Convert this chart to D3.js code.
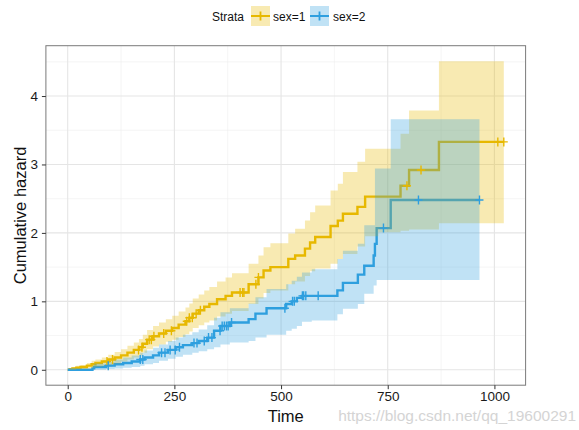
<!DOCTYPE html>
<html>
<head>
<meta charset="utf-8">
<script src="https://cdn.jsdelivr.net/npm/d3@7"></script>
<style>
 body{margin:0;background:#fff;}
 svg{display:block;font-family:"Liberation Sans",Arial,sans-serif;}
</style>
</head>
<body>
<div id="chart"></div>
<script>
// strata and colours
var strata = ["sex=1", "sex=2"];
var colors = ["#E7B800", "#2E9FDF"];

// sex=1 : step times, cumulative hazard, lower / upper CI
var time1 = [0,5,11,20,30,45,56,65,80,95,110,125,140,155,167,176,186,200,214,230,245,260,276,285,293,307,320,332,350,370,385,424,447,459,475,517,533,556,568,580,616,633,645,679,697,728,780,800,870];
var haz1  = [0,0.007,0.02,0.03,0.04,0.06,0.08,0.10,0.12,0.15,0.18,0.21,0.25,0.29,0.33,0.38,0.44,0.49,0.53,0.57,0.61,0.66,0.71,0.76,0.82,0.87,0.92,0.96,1.03,1.08,1.13,1.25,1.35,1.45,1.50,1.62,1.67,1.77,1.86,1.94,2.10,2.18,2.28,2.38,2.53,2.53,2.69,2.92,3.33];
var low1  = [0,0,0,0.01,0.01,0.02,0.03,0.04,0.05,0.07,0.09,0.12,0.15,0.18,0.21,0.25,0.30,0.34,0.37,0.41,0.44,0.48,0.52,0.56,0.61,0.65,0.69,0.72,0.78,0.82,0.86,0.96,1.04,1.12,1.16,1.25,1.29,1.37,1.44,1.48,1.55,1.62,1.69,1.80,1.95,2.01,2.03,2.05,2.14];
var up1   = [0,0.02,0.04,0.06,0.07,0.10,0.13,0.15,0.18,0.22,0.26,0.30,0.35,0.40,0.45,0.51,0.58,0.64,0.69,0.74,0.79,0.85,0.91,0.97,1.04,1.10,1.16,1.21,1.29,1.35,1.41,1.55,1.67,1.79,1.85,1.99,2.06,2.18,2.30,2.40,2.62,2.72,2.89,3.04,3.23,3.23,3.45,3.79,4.51];
var end1  = 1022;
var cens1 = [92,105,166,174,191,196,202,225,243,279,285,292,301,311,404,410,413,441,447,795,828,1008,1022];

// sex=2
var time2 = [0,58,62,90,110,130,150,170,180,200,214,235,253,270,292,307,327,343,358,380,424,440,466,512,525,537,549,572,632,645,680,695,717,720,724,757];
var haz2  = [0,0.02,0.04,0.06,0.08,0.10,0.12,0.15,0.18,0.21,0.25,0.29,0.33,0.36,0.39,0.42,0.47,0.57,0.64,0.69,0.74,0.82,0.90,0.96,1.00,1.05,1.08,1.08,1.16,1.27,1.39,1.52,1.67,1.84,2.07,2.48];
var low2  = [0,0,0,0.01,0.02,0.03,0.04,0.06,0.08,0.10,0.13,0.16,0.19,0.22,0.25,0.27,0.30,0.33,0.37,0.40,0.42,0.47,0.51,0.57,0.60,0.64,0.70,0.72,0.81,0.89,0.96,1.11,1.23,1.23,1.31,1.31];
var up2   = [0,0.06,0.09,0.12,0.15,0.18,0.21,0.25,0.28,0.32,0.37,0.42,0.47,0.51,0.55,0.59,0.65,0.76,0.84,0.90,0.97,1.06,1.18,1.25,1.30,1.36,1.42,1.47,1.62,1.74,1.84,2.11,2.11,2.94,2.94,3.66];
var end2  = 965;
var cens2 = [95,170,176,220,228,240,252,262,296,303,320,330,338,357,362,367,372,376,384,509,527,531,550,553,558,587,740,822,965];

var xTicks = [0,250,500,750,1000];
var xMinor = [125,375,625,875];
var yTicks = [0,1,2,3,4];
var yMinor = [0.5,1.5,2.5,3.5,4.5];

var groups = [
  {name: strata[0], color: colors[0], time: time1, haz: haz1, low: low1, up: up1, end: end1, cens: cens1},
  {name: strata[1], color: colors[1], time: time2, haz: haz2, low: low2, up: up2, end: end2, cens: cens2}
];

var width = 579, height = 430;
var margin = {top: 45.7, right: 53.4, bottom: 44.8, left: 45.9};

var xMax = d3.max(groups, function(g){ return g.end; });
var yMax = d3.max(groups, function(g){ return d3.max(g.up); });
var x = d3.scaleLinear()
    .domain([-0.05*xMax, 1.05*xMax])
    .range([margin.left, width - margin.right]);
var y = d3.scaleLinear()
    .domain([-0.05*yMax, 1.05*yMax])
    .range([height - margin.bottom, margin.top]);

var svg = d3.select('#chart').append('svg')
    .attr('width', width).attr('height', height);

// grid
var grid = svg.append('g');
grid.selectAll('line.xmin').data(xMinor).enter().append('line')
  .attr('x1', x).attr('x2', x).attr('y1', y.range()[0]).attr('y2', y.range()[1])
  .attr('stroke', '#efefef').attr('stroke-width', 0.6);
grid.selectAll('line.ymin').data(yMinor).enter().append('line')
  .attr('y1', y).attr('y2', y).attr('x1', x.range()[0]).attr('x2', x.range()[1])
  .attr('stroke', '#efefef').attr('stroke-width', 0.6);
grid.selectAll('line.xmaj').data(xTicks).enter().append('line')
  .attr('x1', x).attr('x2', x).attr('y1', y.range()[0]).attr('y2', y.range()[1])
  .attr('stroke', '#e5e5e5').attr('stroke-width', 1.1);
grid.selectAll('line.ymaj').data(yTicks).enter().append('line')
  .attr('y1', y).attr('y2', y).attr('x1', x.range()[0]).attr('x2', x.range()[1])
  .attr('stroke', '#e5e5e5').attr('stroke-width', 1.1);

function steps(g){
  var pts = g.time.map(function(t,i){ return {t: t, h: g.haz[i], lo: g.low[i], hi: g.up[i]}; });
  var last = pts[pts.length-1];
  pts.push({t: g.end, h: last.h, lo: last.lo, hi: last.hi});
  return pts;
}
function hazAt(g, t){
  var i = d3.bisectRight(g.time, t) - 1;
  return g.haz[Math.max(i,0)];
}

var line = d3.line().curve(d3.curveStepAfter)
  .x(function(d){ return x(d.t); }).y(function(d){ return y(d.h); });
var area = d3.area().curve(d3.curveStepAfter)
  .x(function(d){ return x(d.t); })
  .y0(function(d){ return y(d.lo); }).y1(function(d){ return y(d.hi); });

var plot = svg.append('g');
// step lines
groups.forEach(function(g){
  plot.append('path').datum(steps(g))
    .attr('d', line).attr('fill', 'none')
    .attr('stroke', g.color).attr('stroke-width', 2.4);
});
// confidence ribbons (drawn over the lines, as in the original)
groups.forEach(function(g){
  plot.append('path').datum(steps(g))
    .attr('d', area).attr('fill', g.color).attr('fill-opacity', 0.3).attr('stroke', 'none');
});
// censor marks
groups.forEach(function(g){
  plot.selectAll(null).data(g.cens).enter().append('path')
    .attr('d', function(t){
      var cx = x(t), cy = y(hazAt(g, t));
      return 'M'+(cx-4)+','+cy+'H'+(cx+4)+'M'+cx+','+(cy-4.5)+'V'+(cy+4.5);
    })
    .attr('stroke', g.color).attr('stroke-width', 1.4).attr('fill', 'none');
});

// panel border
svg.append('rect')
  .attr('x', x.range()[0]).attr('y', y.range()[1])
  .attr('width', x.range()[1]-x.range()[0]).attr('height', y.range()[0]-y.range()[1])
  .attr('fill', 'none').attr('stroke', '#7a7a7a').attr('stroke-width', 1);

// axes
var xAxis = svg.append('g').attr('transform', 'translate(0,'+y.range()[0]+')')
  .call(d3.axisBottom(x).tickValues(xTicks).tickFormat(d3.format('d')).tickSize(4).tickPadding(2.5));
var yAxis = svg.append('g').attr('transform', 'translate('+x.range()[0]+',0)')
  .call(d3.axisLeft(y).tickValues(yTicks).tickFormat(d3.format('d')).tickSize(4).tickPadding(4));
[xAxis, yAxis].forEach(function(a){
  a.select('.domain').remove();
  a.selectAll('line').attr('stroke', '#333');
  a.selectAll('text').attr('fill', '#1a1a1a')
    .style('font-size', '13.5px').style('font-family', '"Liberation Sans",Arial,sans-serif');
});

svg.append('text')
  .attr('x', (x.range()[0]+x.range()[1])/2).attr('y', 422)
  .attr('text-anchor', 'middle').style('font-size', '16.5px').attr('fill', '#111')
  .text('Time');
svg.append('text')
  .attr('transform', 'translate(26,'+((y.range()[0]+y.range()[1])/2)+') rotate(-90)')
  .attr('text-anchor', 'middle').style('font-size', '16.5px').attr('fill', '#111')
  .text('Cumulative hazard');

// legend
var lg = svg.append('g');
lg.append('text').attr('x', 212).attr('y', 20.5).style('font-size', '12px').attr('fill', '#111').text('Strata');
var keyX = [251, 310], labX = [273, 333];
groups.forEach(function(g, i){
  lg.append('rect').attr('x', keyX[i]).attr('y', 6).attr('width', 19).attr('height', 20)
    .attr('fill', g.color).attr('fill-opacity', 0.3);
  lg.append('path')
    .attr('d', 'M'+keyX[i]+',16H'+(keyX[i]+19)+'M'+(keyX[i]+9.5)+',11.5V20.5')
    .attr('stroke', g.color).attr('stroke-width', 1.8).attr('fill', 'none');
  lg.append('text').attr('x', labX[i]).attr('y', 20.5).style('font-size', '12px').attr('fill', '#111').text(g.name);
});

// watermark
svg.append('text').attr('x', 576).attr('y', 421).attr('text-anchor', 'end')
  .style('font-size', '15.5px').attr('fill', '#d4d4d4')
  .text('https://blog.csdn.net/qq_19600291');
</script>
</body>
</html>
